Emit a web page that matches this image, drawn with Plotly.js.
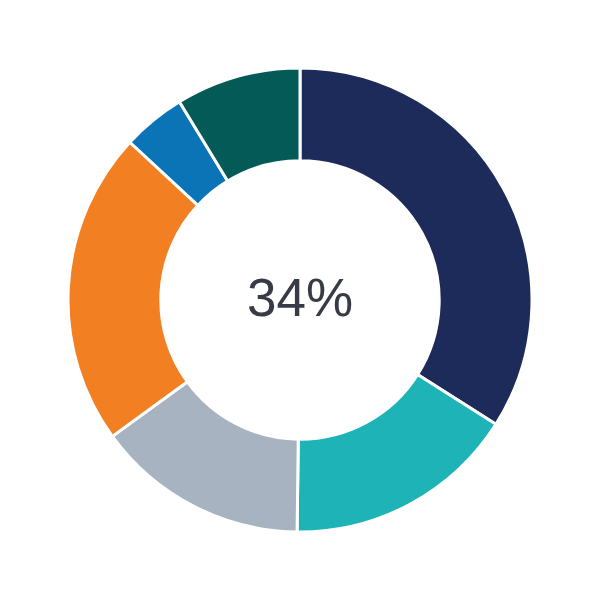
<!DOCTYPE html>
<html>
<head>
<meta charset="utf-8">
<script src="https://cdn.plot.ly/plotly-3.0.1.min.js"></script>
<style>
  html, body { margin: 0; padding: 0; background: #fff; }
  #chart { width: 600px; height: 600px; }
</style>
</head>
<body>
<div id="chart"></div>
<script>
// slice shares, clockwise from 12 o'clock
const labels = ['A', 'B', 'C', 'D', 'E', 'F'];
const values = [34, 16.2, 14.8, 21.9, 4.4, 8.7];
const colors = ['#1c2b5a', '#1db3b7', '#a8b3c1', '#f27f21', '#0a74b6', '#045a56'];
const centerLabel = '34%';

const trace = {
    type: 'pie',
    labels: labels,
    values: values,
    hole: 0.6,
    sort: false,
    direction: 'clockwise',
    rotation: 0,
    textinfo: 'none',
    hoverinfo: 'skip',
    marker: {
        colors: colors,
        line: { color: '#ffffff', width: 3 },
    },
};

const layout = {
    width: 600,
    height: 600,
    margin: { l: 68, r: 68, t: 68, b: 68 },
    showlegend: false,
    paper_bgcolor: '#ffffff',
    annotations: [{
        text: centerLabel,
        x: 0.5,
        y: 0.5,
        yshift: 3,
        xref: 'paper',
        yref: 'paper',
        showarrow: false,
        font: { family: 'Liberation Sans, Arial, sans-serif', size: 53, color: '#363b45' },
    }],
};

Plotly.newPlot('chart', [trace], layout, { staticPlot: true });
</script>
</body>
</html>
